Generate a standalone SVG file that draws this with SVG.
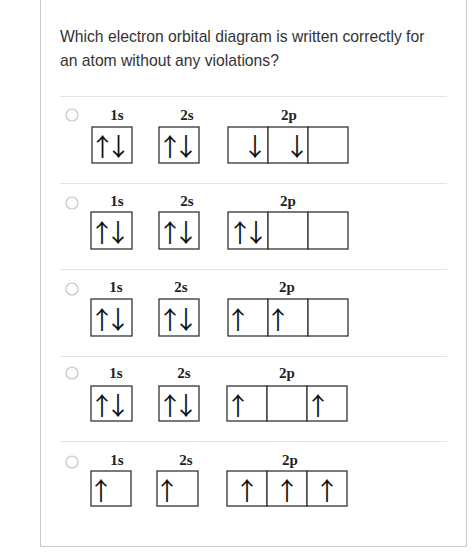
<svg xmlns="http://www.w3.org/2000/svg" width="474" height="556" viewBox="0 0 474 556">
<style>
.q{font-family:"Liberation Sans",Arial,sans-serif;font-size:15.7px;fill:#333}
.lbl{font-family:"Liberation Serif","Times New Roman",serif;font-size:15px;font-weight:bold;fill:#222;text-anchor:middle}
.ar{font-family:"Noto Sans CJK SC","DejaVu Sans",sans-serif;font-size:25px;fill:#111;text-anchor:middle}
.pr{font-family:"Noto Sans CJK SC","DejaVu Sans",sans-serif;font-size:25px;fill:#111;letter-spacing:-9px}
.box{fill:#fff;stroke:#333;stroke-width:1.3}
.sep{stroke:#e2e2e2;stroke-width:1}
.rad{fill:#fff;stroke:#c4c4c4;stroke-width:1.2}
</style>
<rect width="474" height="556" fill="#fff"/>
<path d="M40.5 0 V546.5 H466.5 V0" fill="none" stroke="#c8c8c8" stroke-width="1"/>
<g id="question">
<text class="q" x="60" y="42">Which electron orbital diagram is written correctly for</text>
<text class="q" x="60" y="66">an atom without any violations?</text>
</g>
<g id="separators">
<line class="sep" x1="60" y1="96.5" x2="447" y2="96.5"/>
<line class="sep" x1="60" y1="183.5" x2="447" y2="183.5"/>
<line class="sep" x1="60" y1="269.5" x2="447" y2="269.5"/>
<line class="sep" x1="60" y1="356.5" x2="447" y2="356.5"/>
<line class="sep" x1="60" y1="441.5" x2="447" y2="441.5"/>
</g>
<g id="option1">
<circle class="rad" cx="72" cy="115" r="6"/>
<text class="lbl" x="117" y="120">1s</text><text class="lbl" x="187" y="120">2s</text><text class="lbl" x="289" y="120">2p</text>
<rect class="box" x="92" y="127" width="40" height="36"/>
<rect class="box" x="159" y="127" width="40" height="36"/>
<rect class="box" x="228" y="127" width="40" height="36"/><rect class="box" x="268" y="127" width="40" height="36"/><rect class="box" x="308" y="127" width="40" height="36"/>
<text class="pr" x="90" y="155.5">↑↓</text>
<text class="pr" x="157.5" y="155.5">↑↓</text>
<text class="ar" x="255" y="155.5">↓</text><text class="ar" x="297" y="155.5">↓</text>
</g>
<g id="option2">
<circle class="rad" cx="72" cy="203" r="6"/>
<text class="lbl" x="117" y="206">1s</text><text class="lbl" x="187" y="206">2s</text><text class="lbl" x="288" y="206">2p</text>
<rect class="box" x="91" y="212" width="41" height="37"/>
<rect class="box" x="159" y="212" width="40" height="37"/>
<rect class="box" x="228" y="212" width="40" height="37"/><rect class="box" x="268" y="212" width="40" height="37"/><rect class="box" x="308" y="212" width="40" height="37"/>
<text class="pr" x="89.5" y="241.5">↑↓</text>
<text class="pr" x="157.5" y="241.5">↑↓</text>
<text class="pr" x="227.5" y="241.5">↑↓</text>
</g>
<g id="option3">
<circle class="rad" cx="72" cy="289" r="6"/>
<text class="lbl" x="116" y="292">1s</text><text class="lbl" x="181" y="292">2s</text><text class="lbl" x="287" y="292">2p</text>
<rect class="box" x="91" y="299" width="41" height="37"/>
<rect class="box" x="159" y="299" width="40" height="37"/>
<rect class="box" x="228" y="299" width="40" height="37"/><rect class="box" x="268" y="299" width="40" height="37"/><rect class="box" x="308" y="299" width="40" height="37"/>
<text class="pr" x="89.5" y="328.5">↑↓</text>
<text class="pr" x="157.5" y="328.5">↑↓</text>
<text class="ar" x="238" y="328.5">↑</text><text class="ar" x="278" y="328.5">↑</text>
</g>
<g id="option4">
<circle class="rad" cx="72" cy="373" r="6"/>
<text class="lbl" x="116" y="378">1s</text><text class="lbl" x="184" y="378">2s</text><text class="lbl" x="287" y="378">2p</text>
<rect class="box" x="91" y="386" width="41" height="35"/>
<rect class="box" x="159" y="386" width="40" height="35"/>
<rect class="box" x="227" y="386" width="40" height="35"/><rect class="box" x="267" y="386" width="40" height="35"/><rect class="box" x="307" y="386" width="40" height="35"/>
<text class="pr" x="89.5" y="414.5">↑↓</text>
<text class="pr" x="157.5" y="414.5">↑↓</text>
<text class="ar" x="238" y="414.5">↑</text><text class="ar" x="318" y="414.5">↑</text>
</g>
<g id="option5">
<circle class="rad" cx="72" cy="462" r="6"/>
<text class="lbl" x="117" y="465">1s</text><text class="lbl" x="186" y="465">2s</text><text class="lbl" x="290" y="465">2p</text>
<rect class="box" x="91" y="471" width="40" height="35"/>
<rect class="box" x="157" y="471" width="41" height="35"/>
<rect class="box" x="227" y="471" width="40" height="35"/><rect class="box" x="267" y="471" width="40" height="35"/><rect class="box" x="307" y="471" width="40" height="35"/>
<text class="ar" x="101" y="499.5">↑</text>
<text class="ar" x="167" y="499.5">↑</text>
<text class="ar" x="247" y="499.5">↑</text><text class="ar" x="287" y="499.5">↑</text><text class="ar" x="327" y="499.5">↑</text>
</g>
</svg>
